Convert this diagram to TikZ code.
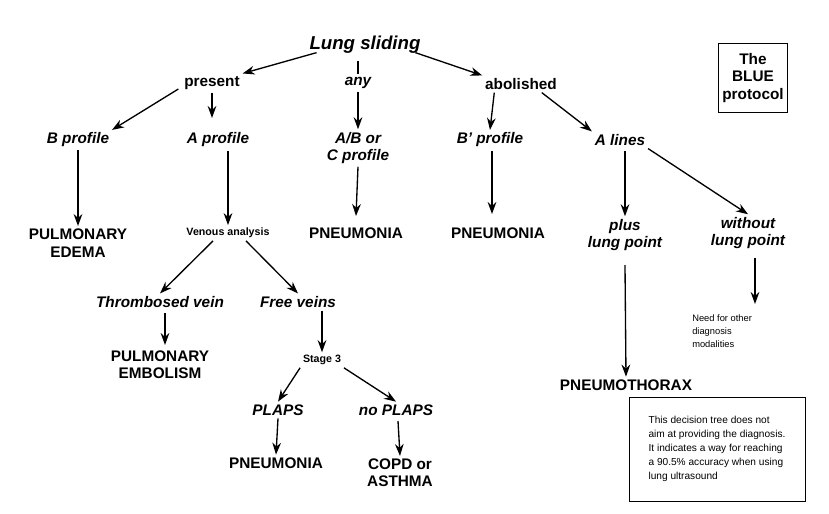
\documentclass[tikz,border=0pt]{standalone}
\usepackage{fontspec}
\setmainfont{Liberation Sans}
\usetikzlibrary{arrows.meta}
\begin{document}
\begin{tikzpicture}[x=0.75pt,y=-0.75pt,
 t/.style={font=\bfseries\fontsize{11.5}{13}\selectfont,align=center,inner sep=2pt},
 ti/.style={t,font=\bfseries\itshape\fontsize{11.5}{13}\selectfont},
 s/.style={font=\bfseries\fontsize{8}{9}\selectfont,align=center,inner sep=2pt},
 a/.style={-{Stealth[length=9pt,width=6.5pt]},line width=1pt}]
\useasboundingbox (0,0) rectangle (829,514);
\node[ti,font=\bfseries\itshape\fontsize{14}{16}\selectfont] (ls) at (365,45) {Lung sliding};
\node[t] (pr) at (212,83) {present};
\node[ti] (any) at (358,83) {any};
\node[t] (ab) at (521,84) {abolished};
\node[ti] (bp) at (78,140) {B profile};
\node[ti] (ap) at (218,140) {A profile};
\node[ti] (abc) at (358,148) {A/B or\\C profile};
\node[ti] (bpp) at (490,140) {B' profile};
\node[ti] (al) at (620,140) {A lines};
\node[t] (pe) at (78,243) {PULMONARY\\EDEMA};
\node[s] (va) at (228,233) {Venous analysis};
\node[t] (pn1) at (356,233) {PNEUMONIA};
\node[t] (pn2) at (498,233) {PNEUMONIA};
\node[ti] (plp) at (625,235) {plus\\lung point};
\node[ti] (wlp) at (748,233) {without\\lung point};
\node[ti] (tv) at (160,302) {Thrombosed vein};
\node[ti] (fv) at (298,302) {Free veins};
\node[t] (emb) at (160,365) {PULMONARY\\EMBOLISM};
\node[s] (st) at (322,360) {Stage 3};
\node[font=\fontsize{7}{10}\selectfont,align=left,anchor=north west,inner sep=0pt] (nd) at (692,314) {Need for other\\diagnosis\\modalities};
\node[t] (ptx) at (626,385) {PNEUMOTHORAX};
\node[ti] (pl) at (278,410) {PLAPS};
\node[ti] (npl) at (396,410) {no PLAPS};
\node[t] (pn3) at (276,463) {PNEUMONIA};
\node[t] (copd) at (400,473) {COPD or\\ASTHMA};
\node[draw,line width=0.7pt,t,minimum width=52pt,minimum height=52pt] (blue) at (753,78) {The\\BLUE\\protocol};
\node[draw,line width=0.6pt,font=\fontsize{7.6}{10.5}\selectfont,align=left,minimum width=132pt,minimum height=78pt,inner sep=5pt] (note) at (717,449) {This decision tree does not\\aim at providing the diagnosis.\\It indicates a way for reaching\\a 90.5\% accuracy when using\\lung ultrasound};
\draw[a] (ls.south west) ++(10,-4) -- (pr.north east);
\draw[line width=1pt] (358,61) -- (any.north);
\draw[a] (ls.south east) ++(-8,-4) -- (ab.north west);
\draw[a] (pr.west) ++(-3,6) -- (bp.north east);
\draw[a] (pr.south) -- (212,118);
\draw[a] (any.south) -- (abc.north);
\draw[a] (ab.south west) ++(12,0) -- (bpp.north);
\draw[a] (ab.south east) ++(-18,0) -- (al.north west);
\draw[a] (bp.south) -- (pe.north);
\draw[a] (228,151) -- (va.north);
\draw[a] (abc.south) -- (356,216);
\draw[a] (492,151) -- (492,214);
\draw[a] (625,151) -- (plp.north);
\draw[a] (al.south east) -- (wlp.north);
\draw[a] (va.south) ++(-15,0) -- (tv.north);
\draw[a] (va.south) ++(18,0) -- (fv.north);
\draw[a] (165,313) -- (165,345);
\draw[a] (fv.south) ++(24,0) -- (st.north);
\draw[a] (755,258) -- (755,304);
\draw[a] (625,265) -- (ptx.north);
\draw[a] (st.south west) -- (pl.north);
\draw[a] (st.south east) -- (npl.north);
\draw[a] (pl.south) -- (pn3.north);
\draw[a] (398,421) -- (copd.north);
\end{tikzpicture}
\end{document}
